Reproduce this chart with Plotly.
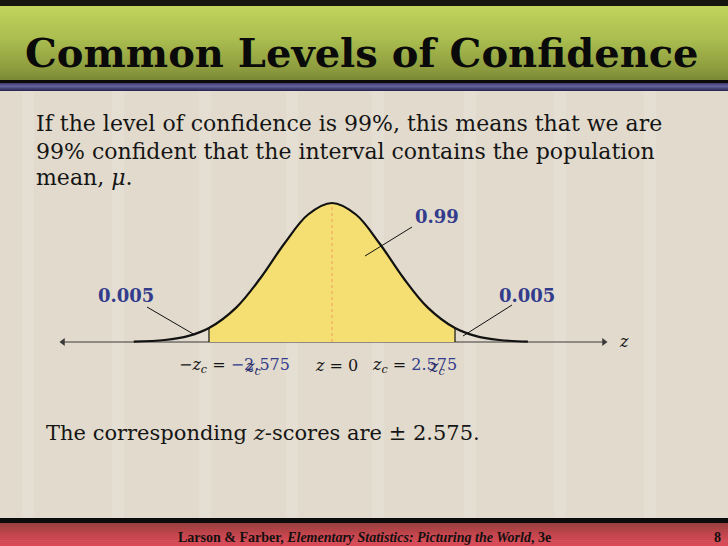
import plotly.graph_objects as go

# ---------------- data ----------------
curve_z = [-4.15, -3.5, -3.0, -2.575, -2.0, -1.5, -1.0, -0.5, 0.0,
           0.5, 1.0, 1.5, 2.0, 2.575, 3.0, 3.5, 4.1]
curve_density = [0.001, 0.0057, 0.0175, 0.040, 0.0995, 0.183, 0.282, 0.366, 0.399,
                 0.366, 0.282, 0.183, 0.0995, 0.040, 0.0175, 0.0057, 0.001]
z_critical = 2.575
confidence_level = 0.99
tail_area = 0.005

title_text = "Common Levels of Confidence"
body_lines = [
    "If the level of confidence is 99%, this means that we are",
    "99% confident that the interval contains the population",
    "mean, <i>μ</i>.",
]
conclusion_text = "The corresponding <i>z</i>-scores are ± 2.575."
footer_text = "<b>Larson &amp; Farber, <i>Elementary Statistics: Picturing the World</i>, 3e</b>"
page_number = "8"

# ---------------- helpers ----------------
W, H = 728, 546
def px(x):
    return x / W
def py(y):
    return 1 - y / H

Z0_PX, PX_PER_Z = 332, 47.77
AXIS_PX = 342
Y_PER_PX = 0.399 / 139
def zx(x):
    return (x - Z0_PX) / PX_PER_Z
def zy(y):
    return (AXIS_PX - y) * Y_PER_PX
x_range = [zx(0), zx(W)]
y_range = [zy(H), zy(0)]

BG = "#e2dbcd"
BLUE = "#333c8c"
SERIF = "DejaVu Serif"

fig = go.Figure()

# shaded central area
i0 = curve_z.index(-z_critical)
i1 = curve_z.index(z_critical)
fig.add_trace(go.Scatter(
    x=curve_z[i0:i1 + 1], y=curve_density[i0:i1 + 1], mode="lines",
    line=dict(width=0, shape="spline", smoothing=1.0), fill="tozeroy",
    fillcolor="#f5df72", hoverinfo="skip", showlegend=False))

# critical value edges
for zc in (-z_critical, z_critical):
    h = curve_density[curve_z.index(zc)]
    fig.add_trace(go.Scatter(x=[zc, zc], y=[0, h], mode="lines",
                             line=dict(color="#111111", width=1.2),
                             hoverinfo="skip", showlegend=False))

# dashed mean line
fig.add_trace(go.Scatter(x=[0, 0], y=[0, max(curve_density)], mode="lines",
                         line=dict(color="#f0a860", width=1.2, dash="dot"),
                         hoverinfo="skip", showlegend=False))

# curve
fig.add_trace(go.Scatter(x=curve_z, y=curve_density, mode="lines",
                         line=dict(color="#111111", width=2.2, shape="spline", smoothing=1.0),
                         hoverinfo="skip", showlegend=False))

# z axis arrowheads
fig.add_trace(go.Scatter(x=[zx(63), zx(604)], y=[0, 0], mode="markers",
                         marker=dict(symbol=["triangle-left", "triangle-right"], size=7,
                                     color="#3a3a3a", line=dict(width=0)),
                         hoverinfo="skip", showlegend=False))

shapes = []
# faint wallpaper stripes
for sx in (28, 118, 205, 292, 378, 470, 560, 650):
    shapes.append(dict(type="rect", xref="paper", yref="paper",
                       x0=px(sx - 6), x1=px(sx + 6), y0=py(518), y1=py(91),
                       fillcolor="rgba(255,255,255,0.10)", line_width=0, layer="below"))

def lerp_color(stops, t):
    for (t0, c0), (t1, c1) in zip(stops[:-1], stops[1:]):
        if t0 <= t <= t1:
            f = (t - t0) / (t1 - t0) if t1 > t0 else 0
            r = [int(round(c0[k] + (c1[k] - c0[k]) * f)) for k in range(3)]
            return "rgb(%d,%d,%d)" % tuple(r)
    c = stops[-1][1]
    return "rgb(%d,%d,%d)" % c

def gradient_band(y0, y1, stops, n):
    step = (y1 - y0) / n
    for i in range(n):
        a = y0 + i * step
        b = a + step + 0.6
        shapes.append(dict(type="rect", xref="paper", yref="paper",
                           x0=0, x1=1, y0=py(min(b, y1)), y1=py(a),
                           fillcolor=lerp_color(stops, (i + 0.5) / n), line_width=0,
                           layer="below"))

# header
shapes.append(dict(type="rect", xref="paper", yref="paper", x0=0, x1=1,
                   y0=py(6), y1=py(0), fillcolor="#15150d", line_width=0, layer="below"))
gradient_band(6, 80, [(0, (193, 212, 92)), (0.45, (170, 189, 79)),
                      (0.85, (141, 156, 62)), (1, (120, 136, 52))], 37)
shapes.append(dict(type="rect", xref="paper", yref="paper", x0=0, x1=1,
                   y0=py(83), y1=py(80), fillcolor="#0b0b0b", line_width=0, layer="below"))
gradient_band(83, 91, [(0, (60, 58, 110)), (0.4, (102, 100, 158)),
                       (1, (36, 34, 76))], 8)

# footer
shapes.append(dict(type="rect", xref="paper", yref="paper", x0=0, x1=1,
                   y0=py(523), y1=py(518), fillcolor="#0b0b0b", line_width=0, layer="below"))
gradient_band(523, 546, [(0, (150, 62, 62)), (0.5, (196, 70, 78)),
                         (1, (220, 74, 88))], 12)

# z axis line
shapes.append(dict(type="line", xref="x", yref="y", x0=zx(62), x1=zx(605), y0=0, y1=0,
                   line=dict(color="#3a3a3a", width=1.2), layer="below"))

# leader lines
for (ax0, ay0, ax1, ay1) in [(412, 227, 365, 256), (147, 307, 195, 335), (512, 305, 463, 336)]:
    shapes.append(dict(type="line", xref="x", yref="y", x0=zx(ax0), y0=zy(ay0),
                       x1=zx(ax1), y1=zy(ay1), line=dict(color="#111111", width=1)))

annotations = []

def text(x, y, s, size, color="#151515", xanchor="left", family=SERIF, yanchor="middle"):
    annotations.append(dict(x=px(x), y=py(y), xref="paper", yref="paper", text=s,
                            showarrow=False, xanchor=xanchor, yanchor=yanchor,
                            font=dict(family=family, size=size, color=color)))

# title
text(362, 53, "<b>" + title_text + "</b>", 40, color="#0a0a0a", xanchor="center")

# body text
for i, line in enumerate(body_lines):
    text(34, 124 + 27 * i, line, 22)
text(44, 433, conclusion_text, 21)

# area labels
text(437, 217, "<b>%.2f</b>" % confidence_level, 18, color=BLUE, xanchor="center")
text(126, 295, "<b>%.3f</b>" % tail_area, 18, color=BLUE, xanchor="center")
text(527, 295, "<b>%.3f</b>" % tail_area, 18, color=BLUE, xanchor="center")

text(617, 341, "<i>z</i>", 16)

# critical value labels under axis
lab = 16
zc_html = "<i>z</i><sub><i>c</i></sub>"
text(177, 365, "−%s = <span style='color:%s'>−%.3f</span>" % (zc_html, BLUE, z_critical), lab)
text(243, 367, zc_html, lab, color="#2a2a62")
text(313, 365, "<i>z</i> = 0", lab)
text(370, 365, "%s = <span style='color:%s'>%.3f</span>" % (zc_html, BLUE, z_critical), lab)
text(427, 367, zc_html, lab, color="#2a2a62")

# footer text
text(364, 537, footer_text, 14, color="#141010", xanchor="center", family="Liberation Serif")
text(717, 537, "<b>" + page_number + "</b>", 14, color="#141010", xanchor="center",
     family="Liberation Serif")

fig.update_layout(
    width=W, height=H, autosize=False,
    margin=dict(l=0, r=0, t=0, b=0, pad=0),
    paper_bgcolor=BG, plot_bgcolor="rgba(0,0,0,0)",
    xaxis=dict(range=x_range, visible=False, fixedrange=True),
    yaxis=dict(range=y_range, visible=False, fixedrange=True),
    shapes=shapes, annotations=annotations, showlegend=False,
)

fig.write_html("out.html", config={"displayModeBar": False},
               post_script="document.body.style.margin='0';document.body.style.overflow='hidden';")
